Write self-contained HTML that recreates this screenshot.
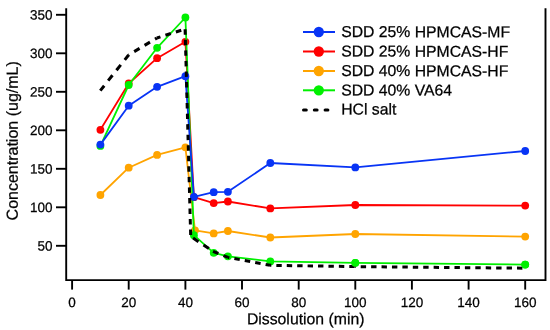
<!DOCTYPE html>
<html><head><meta charset="utf-8"><style>
html,body{margin:0;padding:0;background:#fff;width:550px;height:330px;overflow:hidden}
svg{display:block;will-change:transform}
text{font-family:"Liberation Sans",sans-serif;fill:#000;stroke:#000;stroke-width:0.25px}
.tk{font-size:13.5px}
.ti{font-size:15.8px}
.lg{font-size:15.75px}
</style></head><body>
<svg width="550" height="330" viewBox="0 0 550 330"><path d="M66.2,8.2 V280.1 H545.5 V8.2" fill="none" stroke="#000" stroke-width="1.9"/><line x1="56" y1="245.8" x2="66.2" y2="245.8" stroke="#000" stroke-width="1.9"/><text x="52.6" y="250.5" transform="rotate(0.03 52.6 250.5)" text-anchor="end" class="tk">50</text><line x1="56" y1="207.3" x2="66.2" y2="207.3" stroke="#000" stroke-width="1.9"/><text x="52.6" y="212.0" transform="rotate(0.03 52.6 212.0)" text-anchor="end" class="tk">100</text><line x1="56" y1="168.8" x2="66.2" y2="168.8" stroke="#000" stroke-width="1.9"/><text x="52.6" y="173.5" transform="rotate(0.03 52.6 173.5)" text-anchor="end" class="tk">150</text><line x1="56" y1="130.3" x2="66.2" y2="130.3" stroke="#000" stroke-width="1.9"/><text x="52.6" y="135.0" transform="rotate(0.03 52.6 135.0)" text-anchor="end" class="tk">200</text><line x1="56" y1="91.8" x2="66.2" y2="91.8" stroke="#000" stroke-width="1.9"/><text x="52.6" y="96.5" transform="rotate(0.03 52.6 96.5)" text-anchor="end" class="tk">250</text><line x1="56" y1="53.3" x2="66.2" y2="53.3" stroke="#000" stroke-width="1.9"/><text x="52.6" y="58.0" transform="rotate(0.03 52.6 58.0)" text-anchor="end" class="tk">300</text><line x1="56" y1="14.8" x2="66.2" y2="14.8" stroke="#000" stroke-width="1.9"/><text x="52.6" y="19.5" transform="rotate(0.03 52.6 19.5)" text-anchor="end" class="tk">350</text><line x1="72.1" y1="280.1" x2="72.1" y2="289.6" stroke="#000" stroke-width="1.9"/><text x="72.1" y="306.9" transform="rotate(0.03 72.1 306.9)" text-anchor="middle" class="tk">0</text><line x1="128.7" y1="280.1" x2="128.7" y2="289.6" stroke="#000" stroke-width="1.9"/><text x="128.7" y="306.9" transform="rotate(0.03 128.7 306.9)" text-anchor="middle" class="tk">20</text><line x1="185.4" y1="280.1" x2="185.4" y2="289.6" stroke="#000" stroke-width="1.9"/><text x="185.4" y="306.9" transform="rotate(0.03 185.4 306.9)" text-anchor="middle" class="tk">40</text><line x1="242.0" y1="280.1" x2="242.0" y2="289.6" stroke="#000" stroke-width="1.9"/><text x="242.0" y="306.9" transform="rotate(0.03 242.0 306.9)" text-anchor="middle" class="tk">60</text><line x1="298.7" y1="280.1" x2="298.7" y2="289.6" stroke="#000" stroke-width="1.9"/><text x="298.7" y="306.9" transform="rotate(0.03 298.7 306.9)" text-anchor="middle" class="tk">80</text><line x1="355.3" y1="280.1" x2="355.3" y2="289.6" stroke="#000" stroke-width="1.9"/><text x="355.3" y="306.9" transform="rotate(0.03 355.3 306.9)" text-anchor="middle" class="tk">100</text><line x1="411.9" y1="280.1" x2="411.9" y2="289.6" stroke="#000" stroke-width="1.9"/><text x="411.9" y="306.9" transform="rotate(0.03 411.9 306.9)" text-anchor="middle" class="tk">120</text><line x1="468.6" y1="280.1" x2="468.6" y2="289.6" stroke="#000" stroke-width="1.9"/><text x="468.6" y="306.9" transform="rotate(0.03 468.6 306.9)" text-anchor="middle" class="tk">140</text><line x1="525.2" y1="280.1" x2="525.2" y2="289.6" stroke="#000" stroke-width="1.9"/><text x="525.2" y="306.9" transform="rotate(0.03 525.2 306.9)" text-anchor="middle" class="tk">160</text><text x="305.7" y="324.2" transform="rotate(0.03 305.7 324.2)" text-anchor="middle" class="ti">Dissolution (min)</text><text transform="translate(17.7,140.8) rotate(-89.97)" x="0" y="0" text-anchor="middle" class="ti" style="font-size:16px">Concentration (ug/mL)</text><polyline points="100.4,129.8 128.7,83.5 157.1,58.2 185.4,41.8 193.9,197.2 213.7,203.1 227.9,201.5 270.3,208.4 355.3,205.0 525.2,205.6" fill="none" stroke="#ff0000" stroke-width="1.8" stroke-linejoin="round"/>
<circle cx="100.4" cy="129.8" r="3.9" fill="#ff0000"/><circle cx="128.7" cy="83.5" r="3.9" fill="#ff0000"/><circle cx="157.1" cy="58.2" r="3.9" fill="#ff0000"/><circle cx="185.4" cy="41.8" r="3.9" fill="#ff0000"/><circle cx="193.9" cy="197.2" r="3.9" fill="#ff0000"/><circle cx="213.7" cy="203.1" r="3.9" fill="#ff0000"/><circle cx="227.9" cy="201.5" r="3.9" fill="#ff0000"/><circle cx="270.3" cy="208.4" r="3.9" fill="#ff0000"/><circle cx="355.3" cy="205.0" r="3.9" fill="#ff0000"/><circle cx="525.2" cy="205.6" r="3.9" fill="#ff0000"/>
<polyline points="100.4,195.0 128.7,167.7 157.1,154.9 185.4,147.3 195.0,230.3 213.7,233.4 227.9,231.0 270.3,237.5 355.3,234.0 525.2,236.6" fill="none" stroke="#ffa400" stroke-width="1.8" stroke-linejoin="round"/>
<circle cx="100.4" cy="195.0" r="3.9" fill="#ffa400"/><circle cx="128.7" cy="167.7" r="3.9" fill="#ffa400"/><circle cx="157.1" cy="154.9" r="3.9" fill="#ffa400"/><circle cx="185.4" cy="147.3" r="3.9" fill="#ffa400"/><circle cx="195.0" cy="230.3" r="3.9" fill="#ffa400"/><circle cx="213.7" cy="233.4" r="3.9" fill="#ffa400"/><circle cx="227.9" cy="231.0" r="3.9" fill="#ffa400"/><circle cx="270.3" cy="237.5" r="3.9" fill="#ffa400"/><circle cx="355.3" cy="234.0" r="3.9" fill="#ffa400"/><circle cx="525.2" cy="236.6" r="3.9" fill="#ffa400"/>
<polyline points="100.4,145.9 128.7,85.0 157.1,47.8 185.4,17.5 193.9,235.2 213.7,252.8 227.9,256.3 270.3,261.4 355.3,262.8 525.2,264.6" fill="none" stroke="#00f000" stroke-width="1.8" stroke-linejoin="round"/>
<circle cx="100.4" cy="145.9" r="3.9" fill="#00f000"/><circle cx="128.7" cy="85.0" r="3.9" fill="#00f000"/><circle cx="157.1" cy="47.8" r="3.9" fill="#00f000"/><circle cx="185.4" cy="17.5" r="3.9" fill="#00f000"/><circle cx="193.9" cy="235.2" r="3.9" fill="#00f000"/><circle cx="213.7" cy="252.8" r="3.9" fill="#00f000"/><circle cx="227.9" cy="256.3" r="3.9" fill="#00f000"/><circle cx="270.3" cy="261.4" r="3.9" fill="#00f000"/><circle cx="355.3" cy="262.8" r="3.9" fill="#00f000"/><circle cx="525.2" cy="264.6" r="3.9" fill="#00f000"/>
<polyline points="100.4,144.6 128.7,105.7 157.1,86.8 185.4,76.2 193.9,196.9 213.7,192.2 227.9,191.8 270.3,163.0 355.3,167.4 525.2,151.0" fill="none" stroke="#0834f5" stroke-width="1.8" stroke-linejoin="round"/>
<circle cx="100.4" cy="144.6" r="3.9" fill="#0834f5"/><circle cx="128.7" cy="105.7" r="3.9" fill="#0834f5"/><circle cx="157.1" cy="86.8" r="3.9" fill="#0834f5"/><circle cx="185.4" cy="76.2" r="3.9" fill="#0834f5"/><circle cx="193.9" cy="196.9" r="3.9" fill="#0834f5"/><circle cx="213.7" cy="192.2" r="3.9" fill="#0834f5"/><circle cx="227.9" cy="191.8" r="3.9" fill="#0834f5"/><circle cx="270.3" cy="163.0" r="3.9" fill="#0834f5"/><circle cx="355.3" cy="167.4" r="3.9" fill="#0834f5"/><circle cx="525.2" cy="151.0" r="3.9" fill="#0834f5"/>
<line x1="100.30" y1="90.60" x2="128.60" y2="55.00" stroke="#000" stroke-width="3.0" stroke-dasharray="6.898 6.413" stroke-dashoffset="0.639"/><line x1="128.60" y1="55.00" x2="156.90" y2="38.00" stroke="#000" stroke-width="3.0" stroke-dasharray="6.299 5.856" stroke-dashoffset="5.646"/><line x1="156.90" y1="38.00" x2="185.10" y2="29.00" stroke="#000" stroke-width="3.0" stroke-dasharray="5.668 5.269" stroke-dashoffset="1.973"/><line x1="185.10" y1="29.00" x2="190.70" y2="236.50" stroke="#000" stroke-width="3.0" stroke-dasharray="5.464 5.080" stroke-dashoffset="10.260"/><line x1="190.70" y1="236.50" x2="213.00" y2="251.30" stroke="#000" stroke-width="3.0" stroke-dasharray="6.481 6.025" stroke-dashoffset="9.650"/><line x1="213.00" y1="251.30" x2="228.00" y2="257.40" stroke="#000" stroke-width="3.0" stroke-dasharray="5.829 5.419" stroke-dashoffset="11.227"/><line x1="228.00" y1="257.40" x2="270.00" y2="265.30" stroke="#000" stroke-width="3.0" stroke-dasharray="5.495 5.108" stroke-dashoffset="4.131"/><line x1="270.00" y1="265.30" x2="355.00" y2="266.60" stroke="#000" stroke-width="3.0" stroke-dasharray="5.401 5.021" stroke-dashoffset="4.080"/><line x1="355.00" y1="266.60" x2="525.00" y2="268.20" stroke="#000" stroke-width="3.0" stroke-dasharray="5.400 5.020" stroke-dashoffset="4.720"/><circle cx="355.3" cy="262.8" r="3.9" fill="#00f000"/><circle cx="525.2" cy="264.6" r="3.9" fill="#00f000"/><line x1="303" y1="32.0" x2="335" y2="32.0" stroke="#0834f5" stroke-width="2"/><circle cx="318.8" cy="32.0" r="5.15" fill="#0834f5"/><text x="341.2" y="37.1" transform="rotate(0.03 341.2 37.1)" class="lg">SDD 25% HPMCAS-MF</text><line x1="303" y1="51.5" x2="335" y2="51.5" stroke="#ff0000" stroke-width="2"/><circle cx="318.8" cy="51.5" r="5.15" fill="#ff0000"/><text x="341.2" y="56.6" transform="rotate(0.03 341.2 56.6)" class="lg">SDD 25% HPMCAS-HF</text><line x1="303" y1="71.0" x2="335" y2="71.0" stroke="#ffa400" stroke-width="2"/><circle cx="318.8" cy="71.0" r="5.15" fill="#ffa400"/><text x="341.2" y="76.1" transform="rotate(0.03 341.2 76.1)" class="lg">SDD 40% HPMCAS-HF</text><line x1="303" y1="90.3" x2="335" y2="90.3" stroke="#00f000" stroke-width="2"/><circle cx="318.8" cy="90.3" r="5.15" fill="#00f000"/><text x="341.2" y="95.4" transform="rotate(0.03 341.2 95.4)" class="lg">SDD 40% VA64</text><line x1="303.5" y1="109.9" x2="330.3" y2="109.9" stroke="#000" stroke-width="3" stroke-linecap="round" stroke-dasharray="2.8 8"/><text x="341.2" y="114.5" transform="rotate(0.03 341.2 114.5)" class="lg">HCl salt</text></svg>
</body></html>
